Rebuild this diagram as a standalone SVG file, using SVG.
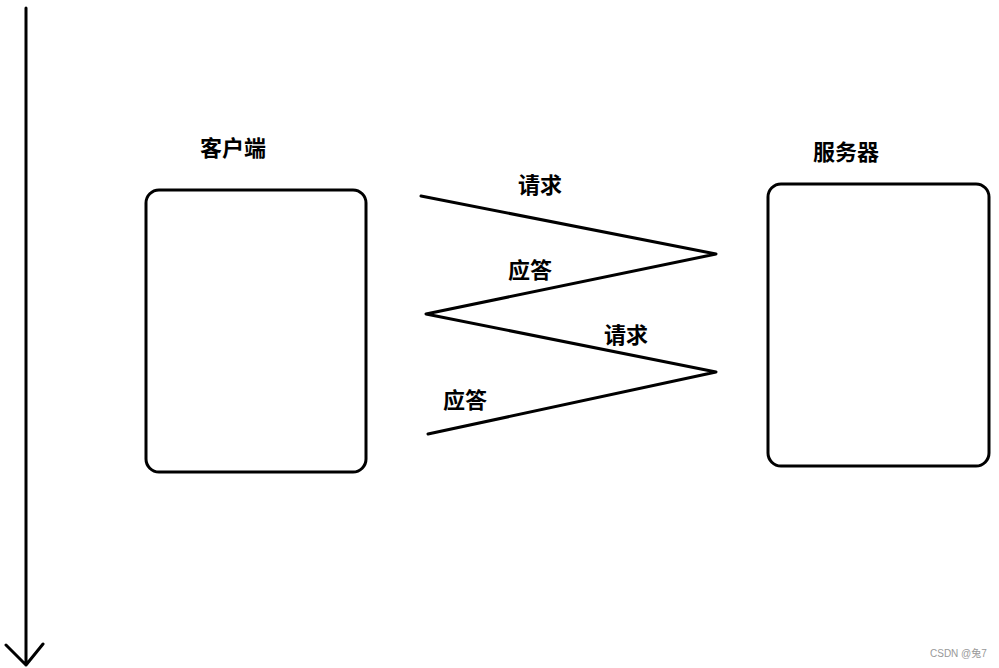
<svg xmlns="http://www.w3.org/2000/svg" width="999" height="668" viewBox="0 0 999 668">
<style>
.box{fill:#fff;stroke:#000;stroke-width:3}
.ln{fill:none;stroke:#000;stroke-width:3;stroke-linecap:round;stroke-linejoin:round}
.t{font-family:"Liberation Sans","Noto Sans CJK SC",sans-serif;font-weight:bold;font-size:22px;fill:#000;text-anchor:middle}
.wm{font-family:"Liberation Sans","Noto Sans CJK SC",sans-serif;font-size:10px;fill:#999}
</style>
<rect width="999" height="668" fill="#fff"/>
<g id="timeline"><path class="ln" d="M26 8V665M6 645L26 665L43 644"/></g>
<g id="client"><rect class="box" x="146" y="190" width="220" height="282" rx="13"/><text class="t" x="233" y="156">客户端</text></g>
<g id="server"><rect class="box" x="768" y="184" width="221" height="282" rx="13"/><text class="t" x="846" y="160">服务器</text></g>
<g id="connectors">
<path class="ln" d="M421 196L716 254L426 314L716 372L428 434"/>
<text class="t" x="540" y="193">请求</text>
<text class="t" x="530" y="278">应答</text>
<text class="t" x="626" y="343">请求</text>
<text class="t" x="465" y="408">应答</text>
</g>
<text class="wm" x="930" y="657">CSDN @兔7</text>
</svg>
